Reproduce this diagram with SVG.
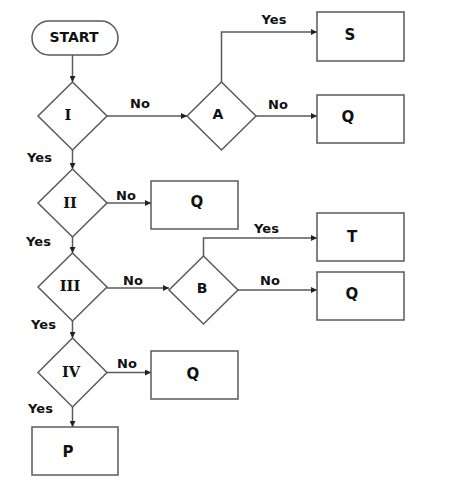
<svg xmlns="http://www.w3.org/2000/svg" width="474" height="485" viewBox="0 0 474 485">
<style>
.shape{fill:#fff;stroke:#5a5a5a;stroke-width:1.5}
.conn{fill:none;stroke:#5a5a5a;stroke-width:1.5}
text{font-family:"DejaVu Sans",Verdana,sans-serif;font-weight:bold;font-size:13px;fill:#111;text-anchor:middle}
.rn{font-family:"DejaVu Serif","Liberation Serif",serif;font-size:14.5px}
.big{font-size:15px}
.mid{font-size:14px}
</style>
<defs>
<marker id="arr" viewBox="0 0 10 10" refX="10" refY="5" markerWidth="7" markerHeight="6" markerUnits="userSpaceOnUse" orient="auto">
<path d="M0,0 L10,5 L0,10 z" fill="#222"/>
</marker>
</defs>
<rect width="474" height="485" fill="#fff"/>
<g id="connectors">
<path class="conn" d="M72.5,55 V82" marker-end="url(#arr)"/>
<path class="conn" d="M107,116 H187" marker-end="url(#arr)"/>
<path class="conn" d="M221.5,82 V32 H317" marker-end="url(#arr)"/>
<path class="conn" d="M256,116 H317" marker-end="url(#arr)"/>
<path class="conn" d="M72.5,150 V169" marker-end="url(#arr)"/>
<path class="conn" d="M107,203 H151" marker-end="url(#arr)"/>
<path class="conn" d="M72.5,237 V253" marker-end="url(#arr)"/>
<path class="conn" d="M107,288 H169" marker-end="url(#arr)"/>
<path class="conn" d="M203.5,256 V238 H317" marker-end="url(#arr)"/>
<path class="conn" d="M238,290 H317" marker-end="url(#arr)"/>
<path class="conn" d="M72.5,321 V338" marker-end="url(#arr)"/>
<path class="conn" d="M107,372.5 H151" marker-end="url(#arr)"/>
<path class="conn" d="M72.5,407 V427" marker-end="url(#arr)"/>
<text x="140" y="108">No</text>
<text x="274" y="24">Yes</text>
<text x="278" y="109">No</text>
<text x="39.5" y="162">Yes</text>
<text x="126" y="200">No</text>
<text x="38.5" y="246">Yes</text>
<text x="133" y="285">No</text>
<text x="43.5" y="329">Yes</text>
<text x="266.5" y="233">Yes</text>
<text x="270" y="285">No</text>
<text x="127" y="368">No</text>
<text x="40.5" y="413">Yes</text>
</g>
<g id="start"><rect class="shape" x="32" y="21" width="86" height="34" rx="17"/><text class="mid" x="74" y="42">START</text></g>
<g id="d1"><path class="shape" d="M72.5,82 L107,116 L72.5,150 L38,116 z"/><text class="rn" x="68" y="120">I</text></g>
<g id="dA"><path class="shape" d="M221.5,82 L256,116 L221.5,150 L187,116 z"/><text class="mid" x="218" y="119">A</text></g>
<g id="boxS"><rect class="shape" x="317" y="12" width="87" height="49"/><text class="big" x="350" y="40">S</text></g>
<g id="boxQ1"><rect class="shape" x="317" y="95" width="87" height="48"/><text class="big" x="348" y="122">Q</text></g>
<g id="d2"><path class="shape" d="M72.5,169 L107,203 L72.5,237 L38,203 z"/><text class="rn" x="70" y="208">II</text></g>
<g id="boxQ2"><rect class="shape" x="151" y="181" width="87" height="48"/><text class="big" x="197" y="207">Q</text></g>
<g id="d3"><path class="shape" d="M72.5,253 L107,287 L72.5,321 L38,287 z"/><text class="rn" x="70" y="291">III</text></g>
<g id="dB"><path class="shape" d="M203.5,256 L238,290 L203.5,324 L169,290 z"/><text class="mid" x="202" y="293">B</text></g>
<g id="boxT"><rect class="shape" x="317" y="213" width="87" height="48"/><text class="big" x="352" y="242">T</text></g>
<g id="boxQ3"><rect class="shape" x="317" y="272" width="87" height="48"/><text class="big" x="352" y="299">Q</text></g>
<g id="d4"><path class="shape" d="M72.5,338 L107,372.5 L72.5,407 L38,372.5 z"/><text class="rn" x="71" y="377">IV</text></g>
<g id="boxQ4"><rect class="shape" x="151" y="351" width="87" height="48"/><text class="big" x="193" y="379">Q</text></g>
<g id="boxP"><rect class="shape" x="32" y="427" width="86" height="48"/><text class="big" x="68" y="457">P</text></g>
</svg>
